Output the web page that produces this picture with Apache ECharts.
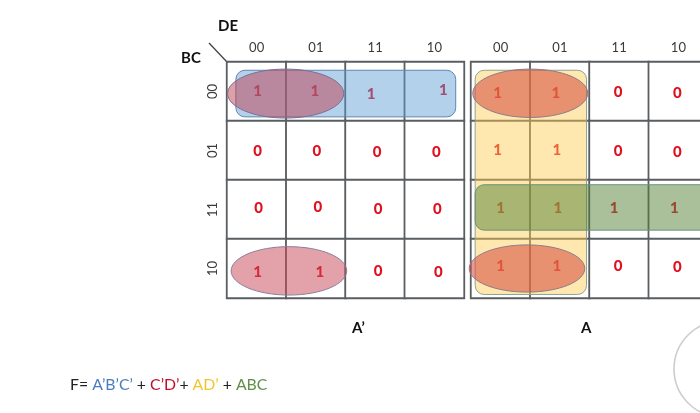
<!DOCTYPE html>
<html>
<head>
<meta charset="utf-8">
<style>
  html, body { margin: 0; padding: 0; background: #fff; overflow: hidden; }
  /* the second map runs off the right of the picture, so the canvas is wider than the window */
  #chart { width: 730px; height: 413px; }
</style>
<script src="https://cdn.jsdelivr.net/npm/echarts@6/dist/echarts.min.js"></script>
</head>
<body>
<div id="chart"></div>
<script>
var deLabels = ['00', '01', '11', '10'];
var bcLabels = ['00', '01', '11', '10'];

// rows are BC, columns are DE
var mapAbar = [
  [1, 1, 1, 1],
  [0, 0, 0, 0],
  [0, 0, 0, 0],
  [1, 1, 0, 0]
];
var mapA = [
  [1, 1, 0, 0],
  [1, 1, 0, 0],
  [1, 1, 1, 1],
  [1, 1, 0, 0]
];

// the digits were placed by hand in the original, so they sit a bit off centre
var nudgeAbar = [
  [[1, 0], [-1, 0], [-4, 3], [9, -1]],
  [[1, 1], [1, 1], [2, 2], [2, 2]],
  [[2, -1], [2, -2], [3, 0], [3, 0]],
  [[1, 4], [4, 4], [3, 3], [4, 4]]
];
var nudgeA = [
  [[-3, 2], [-4, 2], [-1, 1], [-1, 2]],
  [[-3, 0], [-3, 0], [-1, 1], [-1, 2]],
  [[0, -1], [-2, -1], [-5, -1], [-4, -1]],
  [[0, -2], [-3, -2], [-1, -2], [-1, -1]]
];

// groupings in cell units, measured from the top left corner of the map
var groupsAbar = [
  { kind: 'rect', x0: 0.15, x1: 3.86, y0: 0.14, y1: 0.93, fill: 'rgba(91,155,213,0.46)', stroke: '#5f86ad' },
  { kind: 'ellipse', x0: 0.01, x1: 1.97, y0: 0.12, y1: 0.95, fill: 'rgba(192,64,80,0.5)', stroke: '#7a6f95' },
  { kind: 'ellipse', x0: 0.07, x1: 2.02, y0: 3.13, y1: 3.95, fill: 'rgba(200,70,85,0.5)', stroke: '#8a7d9a' }
];
var groupsA = [
  { kind: 'rect', x0: 0.07, x1: 1.95, y0: 0.14, y1: 3.94, fill: 'rgba(255,205,80,0.45)', stroke: '#8fa38f' },
  { kind: 'rect', x0: 0.07, x1: 4.3, y0: 2.08, y1: 2.85, fill: 'rgba(84,130,53,0.5)', stroke: '#6f917c' },
  { kind: 'ellipse', x0: 0.03, x1: 1.97, y0: 0.12, y1: 0.94, fill: 'rgba(214,72,60,0.55)', stroke: '#8a7d8a' },
  { kind: 'ellipse', x0: -0.03, x1: 1.92, y0: 3.1, y1: 3.9, fill: 'rgba(214,72,60,0.55)', stroke: '#8a7d8a' }
];

var gridLine = '#5a5e60';
var labelFont = 'Lato';
var formulaFont = '15.8px Lato';

function cellData(map, nudge) {
  var out = [];
  map.forEach(function(row, r) {
    row.forEach(function(v, c) {
      out.push({
        value: [c, r, v],
        label: { offset: nudge[r][c] }
      });
    });
  });
  return out;
}

function renderGroup(params, api) {
  var g = params.context.groups[params.dataIndex];
  var origin = api.coord([0, 0]);
  var cell = api.size([1, 1]);
  var left = origin[0] - cell[0] / 2;
  var top = origin[1] - cell[1] / 2;
  var x0 = left + g.x0 * cell[0];
  var x1 = left + g.x1 * cell[0];
  var y0 = top + g.y0 * cell[1];
  var y1 = top + g.y1 * cell[1];
  var style = { fill: g.fill, stroke: g.stroke, lineWidth: 1 };
  if (g.kind === 'rect') {
    return { type: 'rect', shape: { x: x0, y: y0, width: x1 - x0, height: y1 - y0, r: 9 }, style: style };
  }
  return {
    type: 'ellipse',
    shape: { cx: (x0 + x1) / 2, cy: (y0 + y1) / 2, rx: (x1 - x0) / 2, ry: (y1 - y0) / 2 },
    style: style
  };
}

function groupSeries(groups, idx) {
  return {
    type: 'custom',
    xAxisIndex: idx,
    yAxisIndex: idx,
    z: 3,
    silent: true,
    clip: false,
    data: groups.map(function(g, i) { return [i]; }),
    encode: { x: -1, y: -1 },
    renderItem: function(params, api) {
      params.context.groups = groups;
      return renderGroup(params, api);
    }
  };
}

function heatSeries(map, nudge, idx) {
  return {
    type: 'heatmap',
    xAxisIndex: idx,
    yAxisIndex: idx,
    z: 2,
    silent: true,
    data: cellData(map, nudge),
    itemStyle: { color: '#fff', borderColor: gridLine, borderWidth: 1.8 },
    label: {
      show: true,
      color: '#e0101f',
      fontFamily: labelFont,
      fontWeight: 900,
      fontSize: 15,
      formatter: function(p) { return String(p.value[2]); }
    }
  };
}

function xAxis(idx) {
  return {
    type: 'category',
    gridIndex: idx,
    position: 'top',
    data: deLabels,
    axisLine: { show: false },
    axisTick: { show: false },
    splitLine: { show: false },
    axisLabel: { color: '#3a3a3a', fontFamily: labelFont, fontSize: 13, margin: 8 }
  };
}

function yAxis(idx) {
  return {
    type: 'category',
    gridIndex: idx,
    inverse: true,
    data: bcLabels,
    axisLine: { show: false },
    axisTick: { show: false },
    splitLine: { show: false },
    axisLabel: { show: idx === 0, color: '#3a3a3a', fontFamily: labelFont, fontSize: 13, rotate: 90, margin: 8 }
  };
}

var myChart = echarts.init(document.getElementById('chart'), null, { renderer: 'canvas' });

myChart.setOption({
  animation: false,
  backgroundColor: '#fff',
  visualMap: { show: false, min: 0, max: 1, inRange: { color: ['#fff', '#fff'] } },
  grid: [
    { left: 227, top: 62, width: 237, height: 236 },
    { left: 471, top: 62, width: 237, height: 236 }
  ],
  xAxis: [xAxis(0), xAxis(1)],
  yAxis: [yAxis(0), yAxis(1)],
  series: [
    heatSeries(mapAbar, nudgeAbar, 0),
    heatSeries(mapA, nudgeA, 1),
    groupSeries(groupsAbar, 0),
    groupSeries(groupsA, 1)
  ],
  graphic: [
    { type: 'text', left: 218, top: 19, style: { text: 'DE', fill: '#111', font: 'bold 15px Lato' } },
    { type: 'text', left: 181, top: 51, style: { text: 'BC', fill: '#111', font: 'bold 15px Lato' } },
    { type: 'line', shape: { x1: 209, y1: 43, x2: 227, y2: 62 }, style: { stroke: '#444', lineWidth: 1.3 } },
    { type: 'text', left: 352, top: 321, style: { text: 'A’', fill: '#111', font: 'bold 15px Lato' } },
    { type: 'text', left: 581, top: 321, style: { text: 'A', fill: '#111', font: 'bold 15px Lato' } },
    { type: 'circle', shape: { cx: 722, cy: 369, r: 48 }, style: { fill: '#fff', stroke: '#cdcdcd', lineWidth: 1.6 } },
    {
      type: 'text',
      left: 70,
      top: 377,
      style: {
        text: '{k|F= }{b|A’B’C’}{k| + }{r|C’D’}{k|+ }{y|AD’}{k| + }{g|ABC}',
        font: formulaFont,
        rich: {
          k: { fill: '#222', font: formulaFont },
          b: { fill: '#4a7ebb', font: formulaFont },
          r: { fill: '#c00f28', font: formulaFont },
          y: { fill: '#f2c530', font: formulaFont },
          g: { fill: '#5f8f48', font: formulaFont }
        }
      }
    }
  ]
});
</script>
</body>
</html>
